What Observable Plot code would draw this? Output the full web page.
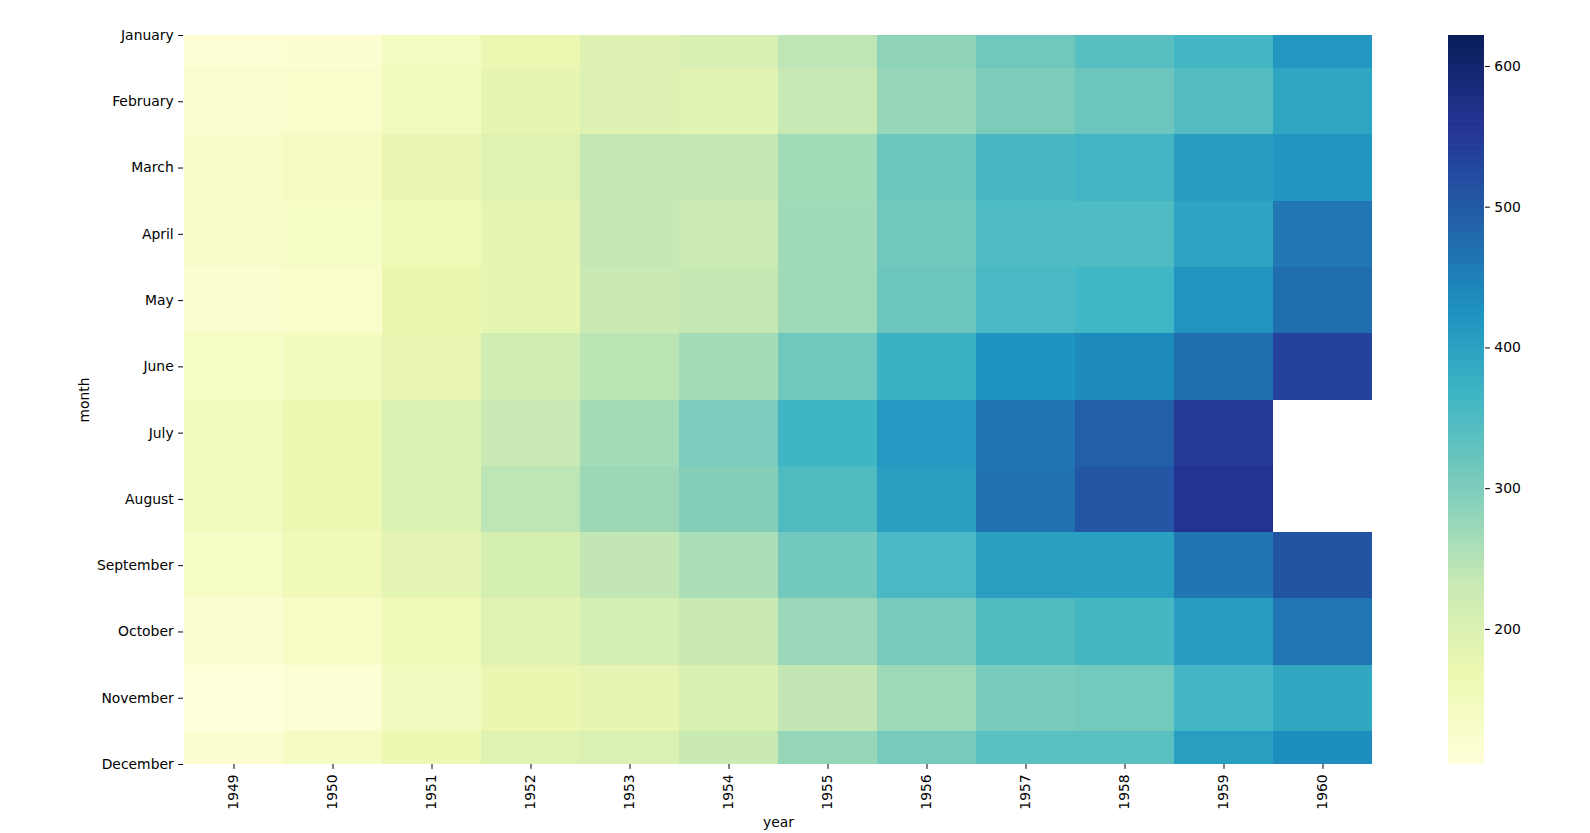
<!DOCTYPE html>
<html><head><meta charset="utf-8">
<script src="https://cdn.jsdelivr.net/npm/d3@7"></script>
<script src="https://cdn.jsdelivr.net/npm/@observablehq/plot@0.6"></script>
<style>
body{margin:0;background:#fff;}
#wrap{position:relative;width:1590px;height:833px;overflow:hidden;}
#main,#cbar{position:absolute;top:0;}
#main{left:0;}
#cbar{left:1400px;}
svg{display:block;}
</style></head><body><div id="wrap"><div id="main"></div><div id="cbar"></div></div>
<script>
const months = ["January","February","March","April","May","June","July","August","September","October","November","December"];
const years = ["1949","1950","1951","1952","1953","1954","1955","1956","1957","1958","1959","1960"];
const p1949 = [112,118,132,129,121,135,148,148,136,119,104,118];
const p1950 = [115,126,141,135,125,149,170,170,158,133,114,140];
const p1951 = [145,150,178,163,172,178,199,199,184,162,146,166];
const p1952 = [171,180,193,181,183,218,230,242,209,191,172,194];
const p1953 = [196,196,236,235,229,243,264,272,237,211,180,201];
const p1954 = [204,188,235,227,234,264,302,293,259,229,203,229];
const p1955 = [242,233,267,269,270,315,364,347,312,274,237,278];
const p1956 = [284,277,317,313,318,374,413,405,355,306,271,306];
const p1957 = [315,301,356,348,355,422,465,467,404,347,305,336];
const p1958 = [340,318,362,348,363,435,491,505,404,359,310,337];
const p1959 = [360,342,406,396,420,472,548,559,463,407,362,405];
const p1960 = [417,391,419,461,472,535,null,null,508,461,390,432];
const passengers = [p1949,p1950,p1951,p1952,p1953,p1954,p1955,p1956,p1957,p1958,p1959,p1960];
const colorDomain = [104, 622];
const colorbarTicks = [200,300,400,500,600];
const ylgnbu = ["#ffffd9","#edf8b1","#c7e9b4","#7fcdbb","#41b6c4","#1d91c0","#225ea8","#253494","#081d58"];

const table = years.flatMap((yr, j) => months.map((m, i) => ({year: yr, month: m, idx: i, value: passengers[j][i]})));
const color = {type: "linear", domain: colorDomain, interpolate: d3.piecewise(d3.interpolateRgb, ylgnbu)};
const style = {fontFamily: "DejaVu Sans", fontSize: "13.9px", color: "#000", background: "transparent"};

const main = Plot.plot({
  width: 1400, height: 833,
  marginLeft: 183, marginRight: 27, marginTop: 35, marginBottom: 69,
  style,
  x: {type: "band", domain: years, padding: 0},
  y: {type: "linear", domain: [11, 0]},
  color,
  marks: [
    Plot.barY(table, {x: "year", y1: d => d.idx - 0.5, y2: d => d.idx + 0.5, fill: "value", clip: true, shapeRendering: "crispEdges"}),
    Plot.axisX({tickRotate: -90, tickSize: 4.9, tickPadding: 4.9, label: "year", labelAnchor: "center", labelOffset: 62, labelArrow: "none"}),
    Plot.axisY({ticks: d3.range(12), tickFormat: i => months[i], tickSize: 4.9, tickPadding: 4.9, label: "month", labelAnchor: "center", labelOffset: 104, labelArrow: "none"})
  ]
});
document.getElementById("main").append(main);

const cbar = Plot.plot({
  width: 190, height: 833,
  marginLeft: 48, marginRight: 106, marginTop: 35, marginBottom: 69,
  style,
  x: {domain: [0, 1], axis: null},
  y: {domain: colorDomain},
  color,
  marks: [
    Plot.rect(d3.range(colorDomain[0], colorDomain[1]), {x1: () => 0, x2: () => 1, y1: d => d, y2: d => Math.min(d + 1.5, colorDomain[1]), fill: d => d}),
    Plot.axisY({anchor: "right", ticks: colorbarTicks, tickSize: 4.9, tickPadding: 4.9, label: null})
  ]
});
document.getElementById("cbar").append(cbar);
</script></body></html>
